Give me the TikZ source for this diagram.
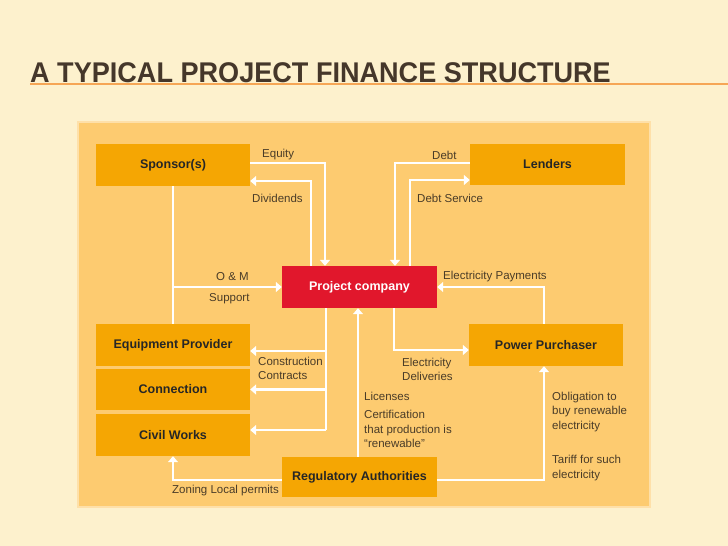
\documentclass[tikz,border=0pt]{standalone}
\usepackage{fontspec}
\setmainfont{Liberation Sans}
\newfontfamily\titlefont[FakeStretch=0.95]{Liberation Sans}
\usetikzlibrary{arrows.meta}
\definecolor{slidebg}{HTML}{FDF1CD}
\definecolor{panelfill}{HTML}{FDCB70}
\definecolor{boxfill}{HTML}{F5A603}
\definecolor{pcred}{HTML}{E1172C}
\definecolor{titlebrown}{HTML}{45372A}
\definecolor{lbltext}{HTML}{4A3C28}

\begin{document}
\begin{tikzpicture}[x=1pt, y=-1pt,
	box/.style={fill=boxfill, inner sep=0pt, minimum width=154pt, minimum height=42pt,
		font=\fontsize{12.5}{14}\selectfont\bfseries, text=black!85},
	redbox/.style={box, fill=pcred, text=white},
	flow/.style={draw=white, line width=2.4pt},
	arr/.style={flow, -{Triangle[width=10pt,length=6pt]}},
	lbl/.style={anchor=west, inner sep=0pt, align=left, text=lbltext,
		font=\fontsize{11.5}{14.5}\selectfont}]
			%%%%% START %%%%%
			
			\useasboundingbox (0, 0) rectangle (728, 546);
			\fill[slidebg] (0, 0) rectangle (728, 546);
			
			\draw[line width=1.6pt, color=orange!80!brown!70] (30, 84) -- (728, 84);
			\node[anchor=base west, inner sep=0pt, text=titlebrown, font=\fontsize{28.5}{30}\titlefont\bfseries] (title) at (30, 82) {A TYPICAL PROJECT FINANCE STRUCTURE};
			
			\draw[fill=panelfill, draw=panelfill!60!white, line width=1.2pt] (78, 122) rectangle (650, 507);
			
			% boxes
			\node[box] (sponsor) at (173, 165) {Sponsor(s)};
			\node[box, minimum width=155pt, minimum height=41pt] (lenders) at (547.5, 164.5) {Lenders};
			\node[redbox, minimum width=155pt] (project) at (359.5, 287) {Project company};
			\node[box] (equip) at (173, 345) {Equipment Provider};
			\node[box, minimum height=41pt] (connect) at (173, 389.5) {Connection};
			\node[box] (civil) at (173, 435) {Civil Works};
			\node[box, minimum width=155pt, minimum height=40pt] (regul) at (359.5, 477) {Regulatory Authorities};
			\node[box] (power) at (546, 345) {Power Purchaser};
			
			% equity / dividends
			\draw[arr] ([yshift=2pt]sponsor.east) -| ([xshift=-34.5pt]project.north);
			\draw[arr] ([xshift=-48.5pt]project.north) |- ([yshift=-16pt]sponsor.east);
			
			% debt / debt service
			\draw[arr] ([yshift=1.5pt]lenders.west) -| ([xshift=35.5pt]project.north);
			\draw[arr] ([xshift=50.5pt]project.north) |- ([yshift=-15.5pt]lenders.west);
			
			% O & M support
			\draw[flow] (sponsor.south) -- (equip.north);
			\draw[arr] (sponsor.south |- project.west) -- (project.west);
			
			% construction contracts
			\coordinate (cctop) at ([xshift=-33.5pt]project.south);
			\coordinate (eqin) at ([yshift=-6pt]equip.east);
			\coordinate (cwin) at ([yshift=5pt]civil.east);
			\draw[flow] (cctop) -- (cctop |- cwin);
			\draw[arr] (cctop |- eqin) -- (eqin);
			\draw[arr] (cctop |- connect.east) -- (connect.east);
			\draw[arr] (cctop |- cwin) -- (cwin);
			
			% licenses
			\draw[arr] ([xshift=-1.5pt]regul.north) -- ([xshift=-1.5pt]project.south);
			
			% electricity deliveries / payments
			\draw[arr] ([xshift=34.5pt]project.south) |- ([yshift=-5pt]power.west);
			\draw[arr] ([xshift=-2pt]power.north) |- (project.east);
			
			% tariff, zoning
			\draw[arr] ([yshift=-3pt]regul.east) -| ([xshift=-2pt]power.south);
			\draw[arr] ([yshift=-3pt]regul.west) -| (civil.south);
			
			% labels
			\node[lbl] (lequity) at (262, 155) {Equity};
			\node[lbl] (ldiv) at (252, 198) {Dividends};
			\node[lbl] (ldebt) at (432, 155) {Debt};
			\node[lbl] (ldebtserv) at (417, 198) {Debt Service};
			\node[lbl] (lom) at (216, 277) {O \& M};
			\node[lbl] (lsupport) at (209, 299) {Support};
			\node[lbl] (lcons) at (258, 368.5) {Construction\\Contracts};
			\node[lbl] (llic) at (364, 396) {Licenses};
			\node[lbl] (lcert) at (364, 429) {Certification\\that production is\\“renewable”};
			\node[lbl] (ldeliv) at (402, 369.5) {Electricity\\Deliveries};
			\node[lbl] (lpay) at (443, 277) {Electricity Payments};
			\node[lbl] (loblig) at (552, 412) {Obligation to\\buy renewable\\electricity};
			\node[lbl] (ltariff) at (552, 468) {Tariff for such\\electricity};
			\node[lbl] (lzoning) at (172, 491) {Zoning Local permits};
			
			%%%%% END %%%%%
\end{tikzpicture}
\end{document}
